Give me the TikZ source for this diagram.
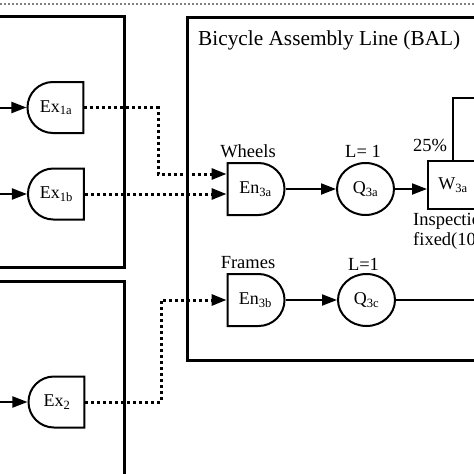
\documentclass[tikz,border=0pt]{standalone}
\usepackage{fontspec}
\setmainfont{Liberation Serif}
\usetikzlibrary{shapes.misc,shapes.geometric,arrows.meta}

\begin{document}
\begin{tikzpicture}[x=1pt,y=-1pt,
  txt/.style={font=\fontsize{18.5}{20}\selectfont},
  exitbox/.style={draw,line width=2pt,rounded rectangle,rounded rectangle right arc=none,
    minimum width=56pt,minimum height=51pt,inner sep=0pt,font=\fontsize{18}{20}\selectfont},
  entrybox/.style={draw,line width=2pt,rounded rectangle,rounded rectangle left arc=none,
    minimum width=57pt,minimum height=52pt,inner sep=0pt,font=\fontsize{18}{20}\selectfont},
  queue/.style={draw,line width=2pt,ellipse,minimum width=57pt,minimum height=52pt,inner sep=0pt,font=\fontsize{18}{20}\selectfont},
  station/.style={draw,line width=2pt,rectangle,minimum width=50pt,minimum height=48pt,inner sep=0pt,font=\fontsize{18}{20}\selectfont},
  flow/.style={line width=2pt,-{Triangle[length=15pt,width=11pt]}},
  link/.style={line width=3pt,dash pattern=on 3pt off 3pt,-{Triangle[length=15pt,width=11pt]}}]
\useasboundingbox (0,0) rectangle (474,474);
\clip (0,0) rectangle (474,474);
% frame of the whole model
\draw [gray,line width=2pt,dash pattern=on 2pt off 2pt] (0,4)--(474,4);
\draw [line width=3pt] (-10,16) rectangle (124,267);
\draw [line width=3pt] (-10,281) rectangle (124,490);
\draw [line width=3pt] (187,17) rectangle (490,360);
\node [anchor=west,inner sep=0pt,font=\fontsize{21.3}{24}\selectfont] (title) at (198,40) {Bicycle Assembly Line (BAL)};
% exits
\node [exitbox] (ex1a) at (56,107.5) {Ex\textsubscript{1a}};
\node [exitbox] (ex1b) at (56.5,194) {Ex\textsubscript{1b}};
\node [exitbox] (ex2) at (57,402) {Ex\textsubscript{2}};
\coordinate (in1a) at (0,107.5);
\coordinate (in1b) at (0,194);
\coordinate (in2) at (0,402);
\draw [flow] (in1a)--(ex1a.west);
\draw [flow] (in1b)--(ex1b.west);
\draw [flow] (in2)--(ex2.west);
% entries
\node [entrybox] (en3a) at (255.5,189) {En\textsubscript{3a}};
\node [entrybox] (en3b) at (255.5,300) {En\textsubscript{3b}};
\node [txt] (wheels) at (248,151) {Wheels};
\node [txt] (frames) at (248,263) {Frames};
\draw [link] (ex1a.east)--(158,107.5)|-([yshift=15pt]en3a.west);
\draw [link] (ex1b.east)--(ex1b.east-|en3a.west);
\draw [link] (ex2.east)--(161,402)|-(en3b.west);
% queues
\node [queue] (q3a) at (365.5,189) {Q\textsubscript{3a}};
\node [queue] (q3c) at (366.5,300) {Q\textsubscript{3c}};
\node [txt] (l3a) at (363,151) {L= 1};
\node [txt] (l3c) at (363.5,264) {L=1};
\draw [flow] (en3a.east)--(q3a.west);
\draw [flow] (en3b.east)--(q3c.west);
\coordinate (out3c) at (480,300);
\draw [line width=2pt] (q3c.east)--(out3c);
% inspection
\node [station] (w3a) at (453,185) {W\textsubscript{3a}};
\draw [flow] (q3a.east)--(q3a.east-|w3a.west);
\node [txt] (pct) at (430,145) {25\%};
\coordinate (rej) at (480,98);
\draw [line width=2pt] (w3a.north)|-(rej);
\node [txt,anchor=north west,align=left,inner sep=0pt] (insp) at (413,213) {Inspection\\fixed(10};
\end{tikzpicture}
\end{document}
